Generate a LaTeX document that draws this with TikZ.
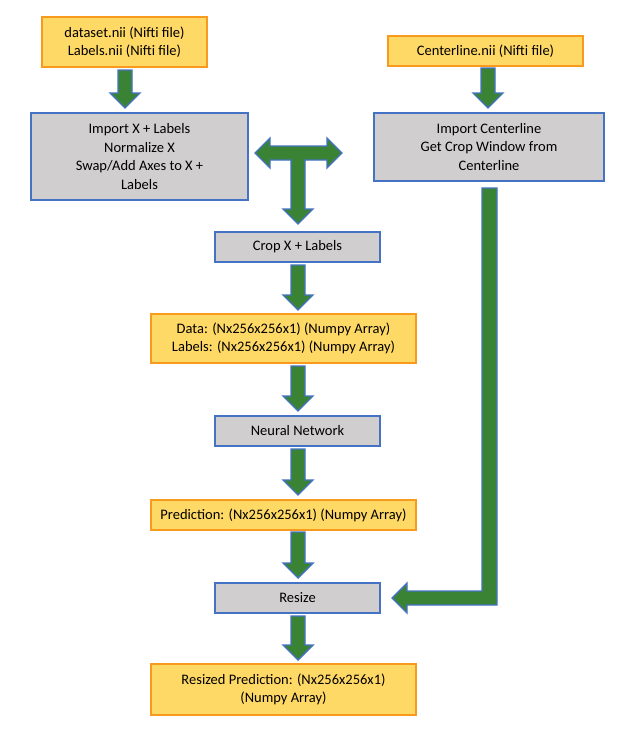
\documentclass[tikz,border=0pt]{standalone}
\usepackage{fontspec}
\setmainfont{Carlito}
\definecolor{filefill}{HTML}{FFD966}
\definecolor{fileline}{HTML}{F79A1E}
\definecolor{stepfill}{HTML}{D0CECE}
\definecolor{stepline}{HTML}{4472C4}
\definecolor{arrowfill}{HTML}{3A8334}
\newcommand{\downarr}[3]{% x, top, tip
  \draw[blockarrow] (#1-7,#2) -- (#1+7,#2) -- (#1+7,#3-15) -- (#1+15,#3-15) -- (#1,#3)
    -- (#1-15,#3-15) -- (#1-7,#3-15) -- cycle;}
\begin{document}
\begin{tikzpicture}[x=1pt,y=-1pt,
  font=\fontsize{14.5}{18.5}\selectfont,
  filebox/.style={draw=fileline,fill=filefill,line width=1.4pt,align=center,inner sep=0pt},
  stepbox/.style={draw=stepline,fill=stepfill,line width=1.4pt,align=center,inner sep=0pt},
  blockarrow/.style={draw=stepline,fill=arrowfill,line width=1.4pt,line join=miter}]
\useasboundingbox (0,0) rectangle (625,745);
% input files
\node[filebox,minimum width=165,minimum height=50] (data) at (124.5,42) {dataset.nii (Nifti file)\\Labels.nii (Nifti file)};
\node[filebox,minimum width=195,minimum height=30] (cline) at (485.5,51) {Centerline.nii (Nifti file)};
% preprocessing
\node[stepbox,minimum width=217,minimum height=87] (importx) at (139.5,156.5) {Import X + Labels\\Normalize X\\Swap/Add Axes to X +\\Labels};
\node[stepbox,minimum width=230,minimum height=68] (importc) at (489,147) {Import Centerline\\Get Crop Window from\\Centerline};
\node[stepbox,minimum width=165,minimum height=30] (crop) at (297.5,247) {Crop X + Labels};
\node[filebox,minimum width=265,minimum height=49] (arrays) at (283.5,338.5) {Data: (Nx256x256x1) (Numpy Array)\\Labels: (Nx256x256x1) (Numpy Array)};
\node[stepbox,minimum width=165,minimum height=30] (net) at (297.5,431) {Neural Network};
\node[filebox,minimum width=265,minimum height=30] (pred) at (283.5,515) {Prediction: (Nx256x256x1) (Numpy Array)};
\node[stepbox,minimum width=165,minimum height=30] (resize) at (297.5,598) {Resize};
\node[filebox,minimum width=265,minimum height=51] (out) at (283.5,689.5) {Resized Prediction: (Nx256x256x1)\\(Numpy Array)};
% block arrows
\downarr{125}{70}{108}
\downarr{488}{68}{108}
\downarr{298}{265}{310}
\downarr{298}{366}{411}
\downarr{298}{449}{495}
\downarr{298}{532}{578}
\downarr{298}{616}{660}
\draw[blockarrow] (255,153) -- (270,138) -- (270,146) -- (327,146) -- (327,138) -- (342,153)
  -- (327,168) -- (327,160) -- (305,160) -- (305,209) -- (313,209) -- (298,224) -- (283,209)
  -- (291,209) -- (291,160) -- (270,160) -- (270,168) -- cycle;
\draw[blockarrow] (482,188) -- (497,188) -- (497,605) -- (407,605) -- (407,613) -- (392,598)
  -- (407,583) -- (407,591) -- (482,591) -- cycle;
\end{tikzpicture}
\end{document}
